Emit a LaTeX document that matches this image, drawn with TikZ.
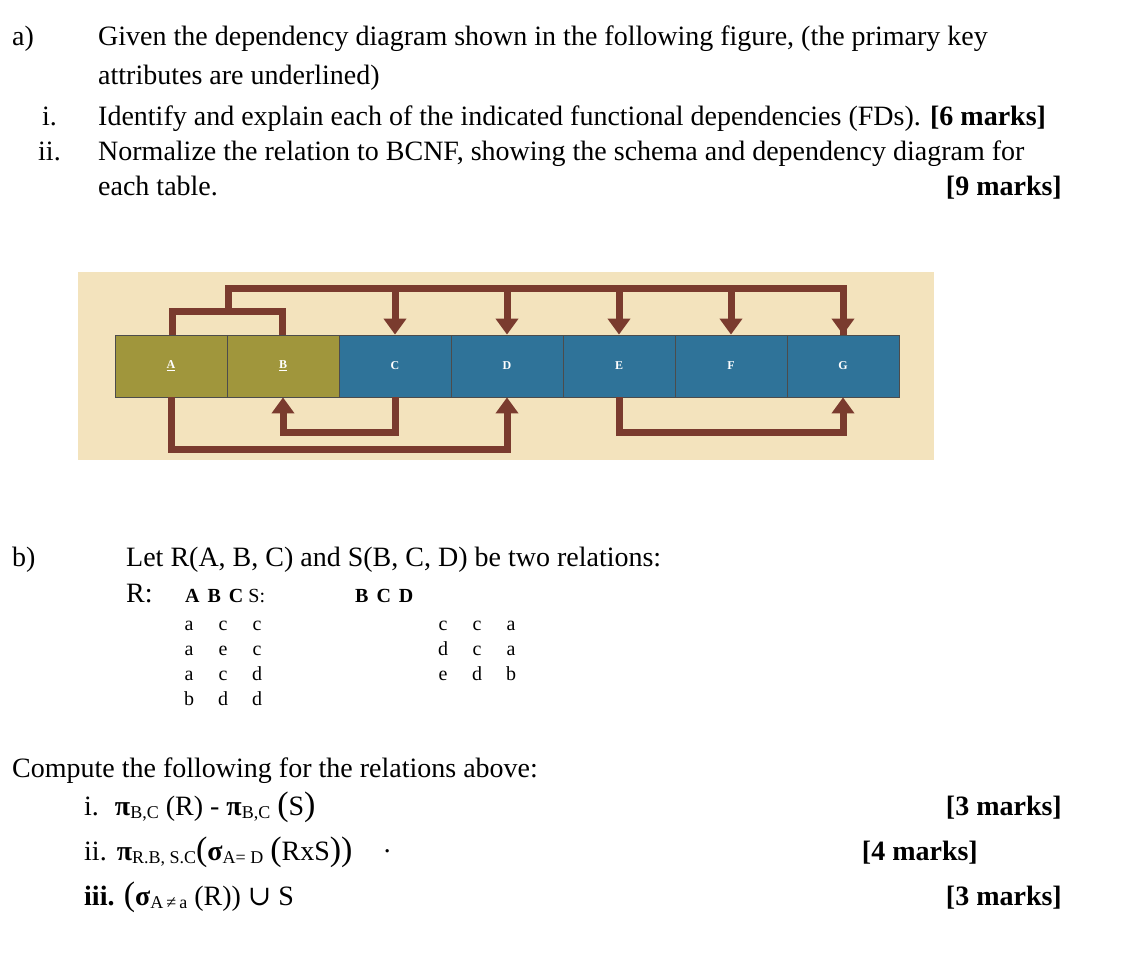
\documentclass[tikz,border=0pt]{standalone}
\usepackage{fontspec}
\setmainfont{Liberation Serif}
\newfontfamily\symf{DejaVu Serif}
\usetikzlibrary{arrows.meta}
\definecolor{bgc}{HTML}{F3E3BD}
\definecolor{olv}{HTML}{A0963C}
\definecolor{blu}{HTML}{2F7399}
\definecolor{arr}{HTML}{7A3B2E}
\begin{document}
\begin{tikzpicture}[x=1pt,y=-1pt,
  txt/.style={anchor=base west,inner sep=0pt,font=\fontsize{28}{30}\selectfont},
  rtxt/.style={anchor=base east,inner sep=0pt,font=\fontsize{28}{30}\selectfont},
  tab/.style={anchor=base,inner sep=0pt,font=\fontsize{20}{22}\selectfont},
  attr/.style={draw=black!70,line width=0.8pt,minimum width=112pt,minimum height=62pt,inner sep=0pt,text=white,font=\fontsize{12}{14}\selectfont\bfseries},
  key/.style={attr,fill=olv},
  nonkey/.style={attr,fill=blu},
  fd/.style={draw=arr,line width=7pt},
  fda/.style={fd,-{Triangle[length=16pt,width=22pt]}}]
\useasboundingbox (0,0) rectangle (1130,978);
\node[txt] (a) at (12,45) {a)};
\node[txt] (a1) at (98,45) {Given the dependency diagram shown in the following figure, (the primary key};
\node[txt] (a2) at (98,84) {attributes are underlined)};
\node[txt] (i) at (42,125) {i.};
\node[txt] (i1) at (98,125) {Identify and explain each of the indicated functional dependencies (FDs). \textbf{[6 marks]}};
\node[txt] (ii) at (38,160) {ii.};
\node[txt] (ii1) at (98,160) {Normalize the relation to BCNF, showing the schema and dependency diagram for};
\node[txt] (ii2) at (98,195) {each table.};
\node[rtxt] (m9) at (1062,195) {\textbf{[9 marks]}};
\fill[fill=bgc] (78,272) rectangle (934,460);
\foreach \n/\l/\i in {A/\underline{A}/0,B/\underline{B}/1}
  \node[key] (\n) at (171+112*\i,366) {\l};
\foreach \n/\i in {C/2,D/3,E/4,F/5,G/6}
  \node[nonkey] (\n) at (171+112*\i,366) {\n};
\coordinate (t) at (228,288);
\draw[fd] ([xshift=1pt]A.north) |- (228,311) -| ([xshift=-1pt]B.north);
\draw[fd] (228,314) -- (228,288) -| (G.north);
\foreach \n in {C,D,E,F,G} \draw[fda] (\n.north |- t) -- (\n.north);
\draw[fda] (C.south) -- ++(0,35) -| (B.south);
\draw[fda] (A.south) -- ++(0,52) -| (D.south);
\draw[fda] (E.south) -- ++(0,35) -| (G.south);
\node[txt] (b) at (12,566) {b)};
\node[txt] (b1) at (126,566) {Let R(A, B, C) and S(B, C, D) be two relations:};
\node[txt] (r) at (126,602) {R:};
\node[tab,anchor=base west] (h) at (185,602) {\textbf{A\hspace{8pt}B\hspace{8pt}C} S:};
\node[tab,anchor=base west] (h2) at (355,602) {\textbf{B\hspace{8pt}C\hspace{8pt}D}};
\foreach \r/\y in {{a,c,c}/630,{a,e,c}/655,{a,c,d}/680,{b,d,d}/705}{
  \foreach \v [count=\k] in \r \node[tab] at (155+34*\k,\y) {\v};}
\foreach \r/\y in {{c,c,a}/630,{d,c,a}/655,{e,d,b}/680}{
  \foreach \v [count=\k] in \r \node[tab] at (409+34*\k,\y) {\v};}
\node[txt] (c) at (12,777) {Compute the following for the relations above:};
\node[txt] (c1) at (84,815) {i.\hspace{16pt}\textbf{π}\raisebox{-3pt}{\fontsize{18}{20}\selectfont B,C} (R) - \textbf{π}\raisebox{-3pt}{\fontsize{18}{20}\selectfont B,C} {\fontsize{34}{34}\selectfont(}S{\fontsize{34}{34}\selectfont)}};
\node[txt] (c2) at (84,860) {ii.\hspace{10pt}\textbf{π}\raisebox{-3pt}{\fontsize{18}{20}\selectfont R.B, S.C}{\fontsize{34}{34}\selectfont(}\textbf{σ}\raisebox{-3pt}{\fontsize{18}{20}\selectfont A= D} {\fontsize{34}{34}\selectfont(}RxS{\fontsize{34}{34}\selectfont))}\hspace{30pt}·};
\node[txt] (c3) at (84,905) {\textbf{iii.} {\fontsize{34}{34}\selectfont(}\textbf{σ}\raisebox{-3pt}{\fontsize{18}{20}\selectfont A\,≠\,a} (R)) {\symf ∪} S};
\node[rtxt] (m1) at (1062,815) {\textbf{[3 marks]}};
\node[rtxt] (m2) at (978,860) {\textbf{[4 marks]}};
\node[rtxt] (m3) at (1062,905) {\textbf{[3 marks]}};
\end{tikzpicture}
\end{document}
